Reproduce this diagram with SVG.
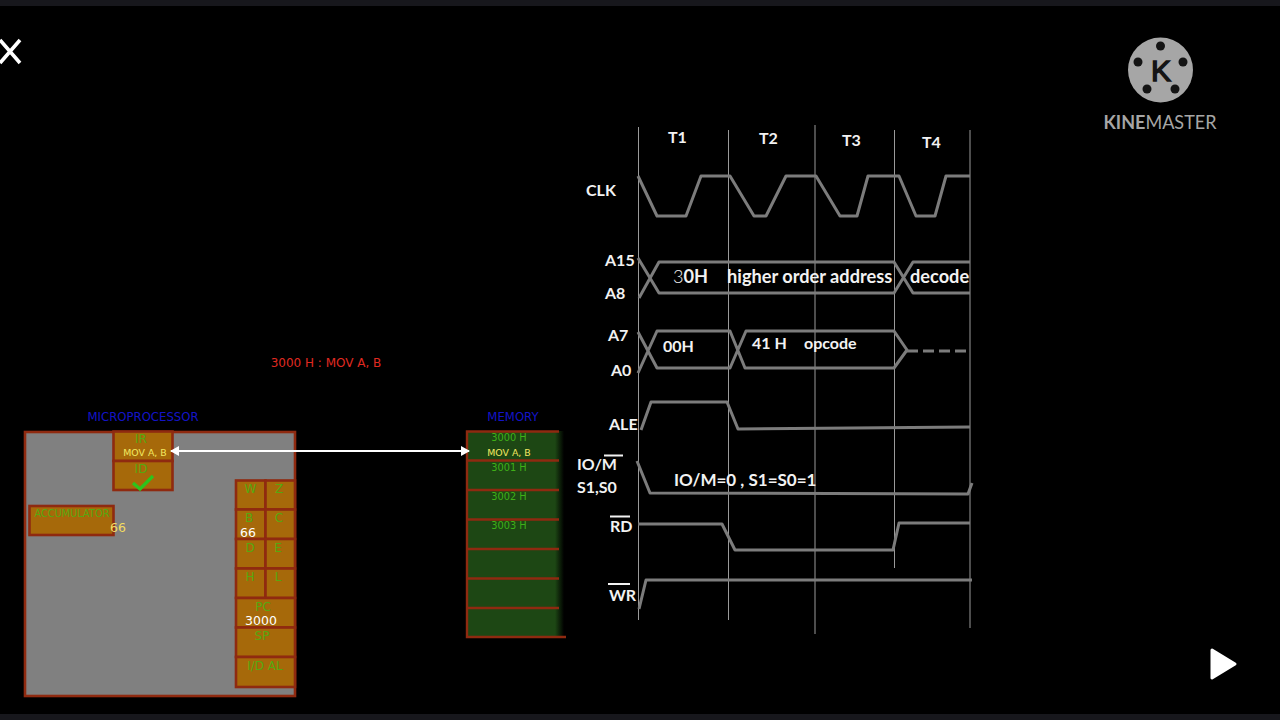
<svg xmlns="http://www.w3.org/2000/svg" width="1280" height="720" viewBox="0 0 1280 720">
<style>
.box{fill:#a6690a;stroke:#8f2a10;stroke-width:2.6}
.lbl{font-family:"DejaVu Sans",sans-serif;fill:#56a810;text-anchor:middle;font-size:12px}
.val{font-family:"DejaVu Sans",sans-serif;fill:#f2e860;text-anchor:middle}
.num{font-family:"DejaVu Sans",sans-serif;fill:#fff;text-anchor:middle;font-size:12.5px}
.title{font-family:"DejaVu Sans",sans-serif;fill:#1414c8;text-anchor:middle;font-size:11.7px}
.mem{font-family:"DejaVu Sans",sans-serif;fill:#3fb018;text-anchor:middle;font-size:9.8px}
.sig{fill:none;stroke:#7c7c7c;stroke-width:3;stroke-linejoin:round}
.tick{stroke:#9a9a9a;stroke-width:1;fill:none}
.t{font-family:Lato,"Open Sans",sans-serif;font-weight:700;fill:#f2f2f2;font-size:16px}
.big{font-size:18.200px}
.bar{stroke:#f2f2f2;stroke-width:2;fill:none}
.mline{stroke:#8f2a10;stroke-width:2.4}
</style>
<defs>
<marker id="head" markerUnits="userSpaceOnUse" markerWidth="9" markerHeight="10" refX="8" refY="5" orient="auto-start-reverse"><path d="M0 0L9 5L0 10z" fill="#fff"/></marker>
<linearGradient id="fade" x1="0" x2="1" y1="0" y2="0"><stop offset="0" stop-color="#1d4714"/><stop offset="1" stop-color="#000"/></linearGradient>
</defs>
<rect width="1280" height="720" fill="#000"/>
<rect width="1280" height="6" fill="#17171c"/>
<rect y="714" width="1280" height="6" fill="#17171c"/>

<g id="close-icon"><path d="M0 40L20 63M20 40L0 63" stroke="#fff" stroke-width="3.600" fill="none"/></g>
<g id="play-icon"><path d="M1212 650L1235 664L1212 678z" fill="#fff" stroke="#fff" stroke-width="3" stroke-linejoin="round"/></g>
<g id="logo">
<circle cx="1160.500" cy="70" r="32.500" fill="#a6a6a6"/>
<g fill="#141414"><circle cx="1160.500" cy="46" r="4.500"/><circle cx="1138" cy="62" r="4.500"/><circle cx="1183" cy="62" r="4.500"/><circle cx="1147" cy="89" r="4.500"/><circle cx="1175" cy="89" r="4.500"/></g>
<text x="1161" y="81" font-family="Liberation Sans,sans-serif" font-size="30" fill="#141414" text-anchor="middle" stroke="#141414" stroke-width="1.400">K</text>
<text x="1160" y="129" font-family="Lato,sans-serif" font-size="19" fill="#a6a6a6" text-anchor="middle" textLength="113" lengthAdjust="spacingAndGlyphs"><tspan font-weight="700">KINE</tspan><tspan font-weight="400">MASTER</tspan></text>
</g>

<g id="caption"><text x="326" y="367" font-family="DejaVu Sans,sans-serif" font-size="12" fill="#e02a20" text-anchor="middle">3000 H : MOV A, B</text></g>

<g id="microprocessor">
<text class="title" x="143" y="421">MICROPROCESSOR</text>
<rect x="25" y="432" width="270" height="264" fill="#808080" stroke="#8f2a10" stroke-width="2.6"/>
</g>
<g id="ir"><rect class="box" x="113.500" y="431.500" width="59" height="29.500"/><text class="lbl" x="141" y="443">IR</text><text class="val" x="145" y="456" font-size="9.400">MOV A, B</text></g>
<g id="id"><rect class="box" x="113.500" y="461" width="59" height="29"/><text class="lbl" x="141" y="473">ID</text><path d="M133 483L140 489L153 476" fill="none" stroke="#2cc41c" stroke-width="3.200"/></g>
<g id="accumulator"><rect class="box" x="29.500" y="506" width="84" height="29"/><text class="lbl" x="72" y="517" style="font-size:9.800px">ACCUMULATOR</text><text class="val" x="118" y="532" style="font-size:12.500px;fill:#f2dc60">66</text></g>
<g id="reg-w"><rect class="box" x="236" y="480.500" width="29.500" height="29"/><text class="lbl" x="250.500" y="493">W</text></g>
<g id="reg-z"><rect class="box" x="265.500" y="480.500" width="29.500" height="29"/><text class="lbl" x="279" y="493">Z</text></g>
<g id="reg-b"><rect class="box" x="236" y="509.500" width="29.500" height="29.500"/><text class="lbl" x="249" y="522">B</text><text class="num" x="248" y="537">66</text></g>
<g id="reg-c"><rect class="box" x="265.500" y="509.500" width="29.500" height="29.500"/><text class="lbl" x="279" y="522">C</text></g>
<g id="reg-d"><rect class="box" x="236" y="539" width="29.500" height="29.500"/><text class="lbl" x="250" y="552">D</text></g>
<g id="reg-e"><rect class="box" x="265.500" y="539" width="29.500" height="29.500"/><text class="lbl" x="278" y="552">E</text></g>
<g id="reg-h"><rect class="box" x="236" y="568.500" width="29.500" height="29.500"/><text class="lbl" x="250" y="581">H</text></g>
<g id="reg-l"><rect class="box" x="265.500" y="568.500" width="29.500" height="29.500"/><text class="lbl" x="278" y="581">L</text></g>
<g id="reg-pc"><rect class="box" x="236" y="598" width="59" height="29.500"/><text class="lbl" x="263" y="611">PC</text><text class="num" x="261" y="625">3000</text></g>
<g id="reg-sp"><rect class="box" x="236" y="627.500" width="59" height="29.500"/><text class="lbl" x="262" y="640">SP</text></g>
<g id="reg-idal"><rect class="box" x="236" y="657" width="59" height="30"/><text class="lbl" x="265" y="670">I/D AL</text></g>

<g id="memory">
<text class="title" x="513" y="421">MEMORY</text>
<rect x="467" y="431" width="88" height="206" fill="#1d4714"/>
<rect x="555" y="431" width="9" height="206" fill="url(#fade)"/>
<path d="M559 431.500H467V637H566" fill="none" stroke="#8f2a10" stroke-width="2.400"/>
<path class="mline" d="M467 460.500H559M467 490H559M467 519.500H559M467 549H559M467 578.500H559M467 608H559"/>
<text class="mem" x="509" y="441">3000 H</text>
<text class="val" x="509" y="456" font-size="9.400">MOV A, B</text>
<text class="mem" x="509" y="471">3001 H</text>
<text class="mem" x="509" y="500">3002 H</text>
<text class="mem" x="509" y="529">3003 H</text>
</g>

<g id="connectors">
<line x1="171" y1="451" x2="469" y2="451" stroke="#fff" stroke-width="2" marker-start="url(#head)" marker-end="url(#head)"/>
</g>

<g id="timing-grid">
<path class="tick" d="M638.500 127V620M728.500 130V620M815 125V634M894.500 130V568M970 130V628"/>
</g>
<g id="timing-signals">
<path class="sig" d="M638 176L657 216H686L701 176H730L754 216H766L786 176H816L840 216H857L868 176H899L916 216H935L946 176H970"/>
<path class="sig" d="M639 298L659 262H894L913 293H970M638 258L659 293H894L913 262H970"/>
<path class="sig" d="M638 373L657 331H730L745 368H894L907 350L894 331H746L730 368H657L638 332"/>
<path class="sig" d="M907 351H970" stroke-dasharray="11 5"/>
<path class="sig" d="M641 430L651 402H727L738 429L853 428L970 427"/>
<path class="sig" d="M637 461L650 493L968 494L972 483"/>
<path class="sig" d="M638 524H722L735 550H893L899 523H970"/>
<path class="sig" d="M639 609L646 580H972"/>
</g>
<g id="timing-labels">
<text class="t" x="668" y="143">T1</text>
<text class="t" x="759" y="144">T2</text>
<text class="t" x="842" y="146">T3</text>
<text class="t" x="922" y="148">T4</text>
<text class="t" x="586" y="196">CLK</text>
<text class="t" x="605" y="266">A15</text>
<text class="t" x="605" y="299">A8</text>
<text class="t" x="608" y="341">A7</text>
<text class="t" x="611" y="376">A0</text>
<text class="t" x="609" y="430">ALE</text>
<text class="t" x="577" y="470">IO/M</text><path class="bar" d="M604 455.500H623"/>
<text class="t" x="577" y="493">S1,S0</text>
<text class="t" x="610" y="532">RD</text><path class="bar" d="M610 516.500H630"/>
<text class="t" x="609" y="601">WR</text><path class="bar" d="M608 584H630"/>
<text class="t big" x="673" y="283"><tspan font-weight="300">3</tspan>0H</text>
<text class="t big" x="727" y="283">higher order address</text>
<text class="t big" x="910" y="283">decode</text>
<text class="t" x="663" y="352">00H</text>
<text class="t" x="752" y="349">41 H</text>
<text class="t" x="804" y="349">opcode</text>
<text class="t" x="674" y="486" style="font-size:17px">IO/M=0 , S1=S0=1</text>
</g>
</svg>
